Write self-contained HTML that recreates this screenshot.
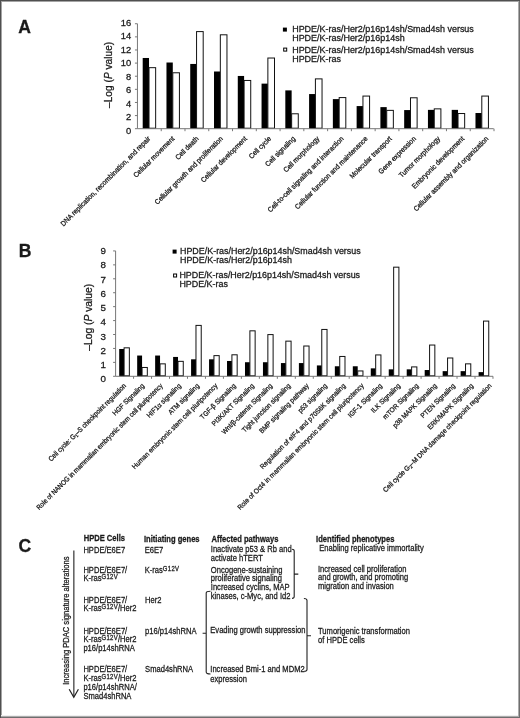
<!DOCTYPE html><html><head><meta charset="utf-8"><style>html,body{margin:0;padding:0;background:#fff}svg{display:block}text{font-family:"Liberation Sans", Arial, Helvetica, sans-serif;fill:#1a1a1a;stroke:#1a1a1a;stroke-width:0.28px}</style></head><body>
<svg width="520" height="718" viewBox="0 0 520 718" shape-rendering="auto">
<rect x="0" y="0" width="520" height="718" fill="#fff"/>
<text x="18.3" y="32.6" font-size="17.6" font-weight="bold" fill="#000">A</text>
<text x="18.8" y="257" font-size="17.6" font-weight="bold" fill="#000">B</text>
<text x="18.5" y="551.6" font-size="17.6" font-weight="bold" fill="#000">C</text>
<rect x="142.70" y="57.98" width="6.32" height="70.72" fill="#000"/>
<rect x="149.02" y="67.67" width="6.63" height="60.53" fill="#fff" stroke="#111" stroke-width="1"/>
<rect x="166.47" y="62.51" width="6.32" height="66.19" fill="#000"/>
<rect x="172.79" y="72.78" width="6.63" height="55.42" fill="#fff" stroke="#111" stroke-width="1"/>
<rect x="190.24" y="63.95" width="6.32" height="64.75" fill="#000"/>
<rect x="196.56" y="31.59" width="6.63" height="96.61" fill="#fff" stroke="#111" stroke-width="1"/>
<rect x="214.01" y="71.50" width="6.32" height="57.20" fill="#000"/>
<rect x="220.33" y="34.80" width="6.63" height="93.40" fill="#fff" stroke="#111" stroke-width="1"/>
<rect x="237.78" y="75.96" width="6.32" height="52.74" fill="#000"/>
<rect x="244.10" y="80.46" width="6.63" height="47.74" fill="#fff" stroke="#111" stroke-width="1"/>
<rect x="261.55" y="83.63" width="6.32" height="45.07" fill="#000"/>
<rect x="267.87" y="58.02" width="6.63" height="70.18" fill="#fff" stroke="#111" stroke-width="1"/>
<rect x="285.32" y="90.39" width="6.32" height="38.31" fill="#000"/>
<rect x="291.64" y="113.78" width="6.63" height="14.42" fill="#fff" stroke="#111" stroke-width="1"/>
<rect x="309.09" y="94.06" width="6.32" height="34.64" fill="#000"/>
<rect x="315.41" y="78.88" width="6.63" height="49.32" fill="#fff" stroke="#111" stroke-width="1"/>
<rect x="332.86" y="99.11" width="6.32" height="29.59" fill="#000"/>
<rect x="339.18" y="97.58" width="6.63" height="30.62" fill="#fff" stroke="#111" stroke-width="1"/>
<rect x="356.63" y="106.07" width="6.32" height="22.63" fill="#000"/>
<rect x="362.95" y="96.07" width="6.63" height="32.13" fill="#fff" stroke="#111" stroke-width="1"/>
<rect x="380.40" y="107.12" width="6.32" height="21.58" fill="#000"/>
<rect x="386.72" y="110.37" width="6.63" height="17.83" fill="#fff" stroke="#111" stroke-width="1"/>
<rect x="404.17" y="110.07" width="6.32" height="18.63" fill="#000"/>
<rect x="410.49" y="97.78" width="6.63" height="30.42" fill="#fff" stroke="#111" stroke-width="1"/>
<rect x="427.94" y="109.87" width="6.32" height="18.83" fill="#000"/>
<rect x="434.26" y="108.86" width="6.63" height="19.34" fill="#fff" stroke="#111" stroke-width="1"/>
<rect x="451.71" y="109.87" width="6.32" height="18.83" fill="#000"/>
<rect x="458.03" y="113.52" width="6.63" height="14.68" fill="#fff" stroke="#111" stroke-width="1"/>
<rect x="475.48" y="113.02" width="6.32" height="15.68" fill="#000"/>
<rect x="481.80" y="96.07" width="6.63" height="32.13" fill="#fff" stroke="#111" stroke-width="1"/>
<path d="M137.45 23.74V128.70H493.70" fill="none" stroke="#777" stroke-width="1"/>
<path d="M134.95 128.70H137.45" stroke="#777" stroke-width="1"/>
<text x="131.25" y="133.87" font-size="9.4" text-anchor="end">0</text>
<path d="M134.95 115.58H137.45" stroke="#777" stroke-width="1"/>
<text x="131.25" y="120.38" font-size="9.4" text-anchor="end">2</text>
<path d="M134.95 102.46H137.45" stroke="#777" stroke-width="1"/>
<text x="131.25" y="106.89" font-size="9.4" text-anchor="end">4</text>
<path d="M134.95 89.34H137.45" stroke="#777" stroke-width="1"/>
<text x="131.25" y="93.40" font-size="9.4" text-anchor="end">6</text>
<path d="M134.95 76.22H137.45" stroke="#777" stroke-width="1"/>
<text x="131.25" y="79.91" font-size="9.4" text-anchor="end">8</text>
<path d="M134.95 63.10H137.45" stroke="#777" stroke-width="1"/>
<text x="131.25" y="66.42" font-size="9.4" text-anchor="end">10</text>
<path d="M134.95 49.98H137.45" stroke="#777" stroke-width="1"/>
<text x="131.25" y="52.93" font-size="9.4" text-anchor="end">12</text>
<path d="M134.95 36.86H137.45" stroke="#777" stroke-width="1"/>
<text x="131.25" y="39.44" font-size="9.4" text-anchor="end">14</text>
<path d="M134.95 23.74H137.45" stroke="#777" stroke-width="1"/>
<text x="131.25" y="25.95" font-size="9.4" text-anchor="end">16</text>
<path d="M161.22 128.70V131.20" stroke="#777" stroke-width="1"/>
<path d="M184.99 128.70V131.20" stroke="#777" stroke-width="1"/>
<path d="M208.76 128.70V131.20" stroke="#777" stroke-width="1"/>
<path d="M232.53 128.70V131.20" stroke="#777" stroke-width="1"/>
<path d="M256.30 128.70V131.20" stroke="#777" stroke-width="1"/>
<path d="M280.07 128.70V131.20" stroke="#777" stroke-width="1"/>
<path d="M303.84 128.70V131.20" stroke="#777" stroke-width="1"/>
<path d="M327.61 128.70V131.20" stroke="#777" stroke-width="1"/>
<path d="M351.38 128.70V131.20" stroke="#777" stroke-width="1"/>
<path d="M375.15 128.70V131.20" stroke="#777" stroke-width="1"/>
<path d="M398.92 128.70V131.20" stroke="#777" stroke-width="1"/>
<path d="M422.69 128.70V131.20" stroke="#777" stroke-width="1"/>
<path d="M446.46 128.70V131.20" stroke="#777" stroke-width="1"/>
<path d="M470.23 128.70V131.20" stroke="#777" stroke-width="1"/>
<path d="M494.00 128.70V131.20" stroke="#777" stroke-width="1"/>
<text x="0" y="0" font-size="7.2" text-anchor="end" transform="translate(150.93 139.20) rotate(-45) scale(0.9170 1)">DNA replication, recombination, and repair</text>
<text x="0" y="0" font-size="7.2" text-anchor="end" transform="translate(175.07 139.20) rotate(-45) scale(0.9170 1)">Cellular movement</text>
<text x="0" y="0" font-size="7.2" text-anchor="end" transform="translate(199.21 139.20) rotate(-45) scale(0.9170 1)">Cell death</text>
<text x="0" y="0" font-size="7.2" text-anchor="end" transform="translate(223.35 139.20) rotate(-45) scale(0.9170 1)">Cellular growth and proliferation</text>
<text x="0" y="0" font-size="7.2" text-anchor="end" transform="translate(247.49 139.20) rotate(-45) scale(0.9170 1)">Cellular development</text>
<text x="0" y="0" font-size="7.2" text-anchor="end" transform="translate(271.63 139.20) rotate(-45) scale(0.9170 1)">Cell cycle</text>
<text x="0" y="0" font-size="7.2" text-anchor="end" transform="translate(295.77 139.20) rotate(-45) scale(0.9170 1)">Cell signaling</text>
<text x="0" y="0" font-size="7.2" text-anchor="end" transform="translate(319.92 139.20) rotate(-45) scale(0.9170 1)">Cell morphology</text>
<text x="0" y="0" font-size="7.2" text-anchor="end" transform="translate(344.06 139.20) rotate(-45) scale(0.9170 1)">Cell-to-cell signaling and interaction</text>
<text x="0" y="0" font-size="7.2" text-anchor="end" transform="translate(368.19 139.20) rotate(-45) scale(0.9170 1)">Cellular function and maintenance</text>
<text x="0" y="0" font-size="7.2" text-anchor="end" transform="translate(392.34 139.20) rotate(-45) scale(0.9170 1)">Molecular transport</text>
<text x="0" y="0" font-size="7.2" text-anchor="end" transform="translate(416.48 139.20) rotate(-45) scale(0.9170 1)">Gene expression</text>
<text x="0" y="0" font-size="7.2" text-anchor="end" transform="translate(440.62 139.20) rotate(-45) scale(0.9170 1)">Tumor morphology</text>
<text x="0" y="0" font-size="7.2" text-anchor="end" transform="translate(464.75 139.20) rotate(-45) scale(0.9170 1)">Embryonic development</text>
<text x="0" y="0" font-size="7.2" text-anchor="end" transform="translate(488.90 139.20) rotate(-45) scale(0.9170 1)">Cellular assembly and organization</text>
<text x="0" y="0" font-size="10" text-anchor="middle" textLength="66.2" lengthAdjust="spacing" transform="translate(111.5 74.9) rotate(-90)">–Log (<tspan font-style="italic">P</tspan> value)</text>
<rect x="282.9" y="27.6" width="4.0" height="4.0" fill="#000"/>
<rect x="283.7" y="48.1" width="3.0" height="3.0" fill="#fff" stroke="#000" stroke-width="1"/>
<text font-size="8.96"><tspan x="292.2" y="32">HPDE/K-ras/Her2/p16p14sh/Smad4sh versus</tspan><tspan x="292.2" y="40.8">HPDE/K-ras/Her2/p16p14sh</tspan><tspan x="292.2" y="53">HPDE/K-ras/Her2/p16p14sh/Smad4sh versus</tspan><tspan x="292.2" y="62">HPDE/K-ras</tspan></text>
<rect x="119.20" y="349.00" width="4.90" height="27.30" fill="#000"/>
<rect x="124.10" y="347.83" width="5.25" height="27.97" fill="#fff" stroke="#111" stroke-width="1"/>
<rect x="137.17" y="355.54" width="4.90" height="20.76" fill="#000"/>
<rect x="142.07" y="367.47" width="5.25" height="8.33" fill="#fff" stroke="#111" stroke-width="1"/>
<rect x="155.14" y="355.54" width="4.90" height="20.76" fill="#000"/>
<rect x="160.04" y="363.85" width="5.25" height="11.95" fill="#fff" stroke="#111" stroke-width="1"/>
<rect x="173.11" y="356.94" width="4.90" height="19.36" fill="#000"/>
<rect x="178.01" y="361.34" width="5.25" height="14.46" fill="#fff" stroke="#111" stroke-width="1"/>
<rect x="191.08" y="359.31" width="4.90" height="16.99" fill="#000"/>
<rect x="195.98" y="325.40" width="5.25" height="50.40" fill="#fff" stroke="#111" stroke-width="1"/>
<rect x="209.05" y="359.31" width="4.90" height="16.99" fill="#000"/>
<rect x="213.95" y="355.63" width="5.25" height="20.17" fill="#fff" stroke="#111" stroke-width="1"/>
<rect x="227.02" y="360.98" width="4.90" height="15.32" fill="#000"/>
<rect x="231.92" y="354.79" width="5.25" height="21.01" fill="#fff" stroke="#111" stroke-width="1"/>
<rect x="244.99" y="362.23" width="4.90" height="14.07" fill="#000"/>
<rect x="249.89" y="330.83" width="5.25" height="44.97" fill="#fff" stroke="#111" stroke-width="1"/>
<rect x="262.96" y="362.23" width="4.90" height="14.07" fill="#000"/>
<rect x="267.86" y="334.59" width="5.25" height="41.21" fill="#fff" stroke="#111" stroke-width="1"/>
<rect x="280.93" y="363.07" width="4.90" height="13.23" fill="#000"/>
<rect x="285.83" y="341.14" width="5.25" height="34.66" fill="#fff" stroke="#111" stroke-width="1"/>
<rect x="298.90" y="363.07" width="4.90" height="13.23" fill="#000"/>
<rect x="303.80" y="346.01" width="5.25" height="29.79" fill="#fff" stroke="#111" stroke-width="1"/>
<rect x="316.87" y="365.43" width="4.90" height="10.87" fill="#000"/>
<rect x="321.77" y="329.44" width="5.25" height="46.36" fill="#fff" stroke="#111" stroke-width="1"/>
<rect x="334.84" y="366.27" width="4.90" height="10.03" fill="#000"/>
<rect x="339.74" y="356.46" width="5.25" height="19.34" fill="#fff" stroke="#111" stroke-width="1"/>
<rect x="352.81" y="366.27" width="4.90" height="10.03" fill="#000"/>
<rect x="357.71" y="370.95" width="5.25" height="4.85" fill="#fff" stroke="#111" stroke-width="1"/>
<rect x="370.78" y="368.36" width="4.90" height="7.94" fill="#000"/>
<rect x="375.68" y="354.93" width="5.25" height="20.87" fill="#fff" stroke="#111" stroke-width="1"/>
<rect x="388.75" y="369.34" width="4.90" height="6.96" fill="#000"/>
<rect x="393.65" y="267.17" width="5.25" height="108.63" fill="#fff" stroke="#111" stroke-width="1"/>
<rect x="406.72" y="369.34" width="4.90" height="6.96" fill="#000"/>
<rect x="411.62" y="366.91" width="5.25" height="8.89" fill="#fff" stroke="#111" stroke-width="1"/>
<rect x="424.69" y="370.03" width="4.90" height="6.27" fill="#000"/>
<rect x="429.59" y="345.04" width="5.25" height="30.76" fill="#fff" stroke="#111" stroke-width="1"/>
<rect x="442.66" y="371.15" width="4.90" height="5.15" fill="#000"/>
<rect x="447.56" y="357.99" width="5.25" height="17.81" fill="#fff" stroke="#111" stroke-width="1"/>
<rect x="460.63" y="371.15" width="4.90" height="5.15" fill="#000"/>
<rect x="465.53" y="363.85" width="5.25" height="11.95" fill="#fff" stroke="#111" stroke-width="1"/>
<rect x="478.60" y="372.12" width="4.90" height="4.18" fill="#000"/>
<rect x="483.50" y="321.08" width="5.25" height="54.72" fill="#fff" stroke="#111" stroke-width="1"/>
<path d="M115.60 250.93V376.30H493.00" fill="none" stroke="#777" stroke-width="1"/>
<path d="M113.10 376.30H115.60" stroke="#777" stroke-width="1"/>
<text x="105.90" y="382.31" font-size="9.8" text-anchor="end">0</text>
<path d="M113.10 362.37H115.60" stroke="#777" stroke-width="1"/>
<text x="105.90" y="368.08" font-size="9.8" text-anchor="end">1</text>
<path d="M113.10 348.44H115.60" stroke="#777" stroke-width="1"/>
<text x="105.90" y="353.85" font-size="9.8" text-anchor="end">2</text>
<path d="M113.10 334.51H115.60" stroke="#777" stroke-width="1"/>
<text x="105.90" y="339.62" font-size="9.8" text-anchor="end">3</text>
<path d="M113.10 320.58H115.60" stroke="#777" stroke-width="1"/>
<text x="105.90" y="325.39" font-size="9.8" text-anchor="end">4</text>
<path d="M113.10 306.65H115.60" stroke="#777" stroke-width="1"/>
<text x="105.90" y="311.16" font-size="9.8" text-anchor="end">5</text>
<path d="M113.10 292.72H115.60" stroke="#777" stroke-width="1"/>
<text x="105.90" y="296.93" font-size="9.8" text-anchor="end">6</text>
<path d="M113.10 278.79H115.60" stroke="#777" stroke-width="1"/>
<text x="105.90" y="282.70" font-size="9.8" text-anchor="end">7</text>
<path d="M113.10 264.86H115.60" stroke="#777" stroke-width="1"/>
<text x="105.90" y="268.47" font-size="9.8" text-anchor="end">8</text>
<path d="M113.10 250.93H115.60" stroke="#777" stroke-width="1"/>
<text x="105.90" y="254.24" font-size="9.8" text-anchor="end">9</text>
<path d="M133.57 376.30V378.80" stroke="#777" stroke-width="1"/>
<path d="M151.54 376.30V378.80" stroke="#777" stroke-width="1"/>
<path d="M169.51 376.30V378.80" stroke="#777" stroke-width="1"/>
<path d="M187.48 376.30V378.80" stroke="#777" stroke-width="1"/>
<path d="M205.45 376.30V378.80" stroke="#777" stroke-width="1"/>
<path d="M223.42 376.30V378.80" stroke="#777" stroke-width="1"/>
<path d="M241.39 376.30V378.80" stroke="#777" stroke-width="1"/>
<path d="M259.36 376.30V378.80" stroke="#777" stroke-width="1"/>
<path d="M277.33 376.30V378.80" stroke="#777" stroke-width="1"/>
<path d="M295.30 376.30V378.80" stroke="#777" stroke-width="1"/>
<path d="M313.27 376.30V378.80" stroke="#777" stroke-width="1"/>
<path d="M331.24 376.30V378.80" stroke="#777" stroke-width="1"/>
<path d="M349.21 376.30V378.80" stroke="#777" stroke-width="1"/>
<path d="M367.18 376.30V378.80" stroke="#777" stroke-width="1"/>
<path d="M385.15 376.30V378.80" stroke="#777" stroke-width="1"/>
<path d="M403.12 376.30V378.80" stroke="#777" stroke-width="1"/>
<path d="M421.09 376.30V378.80" stroke="#777" stroke-width="1"/>
<path d="M439.06 376.30V378.80" stroke="#777" stroke-width="1"/>
<path d="M457.03 376.30V378.80" stroke="#777" stroke-width="1"/>
<path d="M475.00 376.30V378.80" stroke="#777" stroke-width="1"/>
<path d="M492.97 376.30V378.80" stroke="#777" stroke-width="1"/>
<text x="0" y="0" font-size="7.0" text-anchor="end" transform="translate(126.58 386.30) rotate(-45) scale(0.9019 1)">Cell cycle: G<tspan baseline-shift='-1.5' font-size='4.5'>1</tspan>–S checkpoint regulation</text>
<text x="0" y="0" font-size="7.0" text-anchor="end" transform="translate(144.87 386.30) rotate(-45) scale(0.9250 1)">HGF Signaling</text>
<text x="0" y="0" font-size="7.0" text-anchor="end" transform="translate(163.14 386.30) rotate(-45) scale(0.8834 1)">Role of NANOG in mammalian embryonic stem cell pluripotency</text>
<text x="0" y="0" font-size="7.0" text-anchor="end" transform="translate(181.43 386.30) rotate(-45) scale(0.9250 1)">HIF1α signaling</text>
<text x="0" y="0" font-size="7.0" text-anchor="end" transform="translate(199.70 386.30) rotate(-45) scale(0.9250 1)">ATM signaling</text>
<text x="0" y="0" font-size="7.0" text-anchor="end" transform="translate(217.99 386.30) rotate(-45) scale(0.9343 1)">Human embryonic stem cell pluripotency</text>
<text x="0" y="0" font-size="7.0" text-anchor="end" transform="translate(236.26 386.30) rotate(-45) scale(0.9250 1)">TGF-β Signaling</text>
<text x="0" y="0" font-size="7.0" text-anchor="end" transform="translate(254.55 386.30) rotate(-45) scale(0.9250 1)">PI3K/AKT Signaling</text>
<text x="0" y="0" font-size="7.0" text-anchor="end" transform="translate(272.82 386.30) rotate(-45) scale(0.9250 1)">Wnt/β-catenin Signaling</text>
<text x="0" y="0" font-size="7.0" text-anchor="end" transform="translate(291.11 386.30) rotate(-45) scale(0.9250 1)">Tight junction signaling</text>
<text x="0" y="0" font-size="7.0" text-anchor="end" transform="translate(309.38 386.30) rotate(-45) scale(0.9250 1)">BMP signaling pathway</text>
<text x="0" y="0" font-size="7.0" text-anchor="end" transform="translate(327.67 386.30) rotate(-45) scale(0.9250 1)">p53 signaling</text>
<text x="0" y="0" font-size="7.0" text-anchor="end" transform="translate(345.94 386.30) rotate(-45) scale(0.9250 1)">Regulation of eIF4 and p70S6K signaling</text>
<text x="0" y="0" font-size="7.0" text-anchor="end" transform="translate(364.23 386.30) rotate(-45) scale(0.9343 1)">Role of Oct4 in mammalian embryonic stem cell pluripotency</text>
<text x="0" y="0" font-size="7.0" text-anchor="end" transform="translate(382.50 386.30) rotate(-45) scale(0.9250 1)">IGF-1 Signaling</text>
<text x="0" y="0" font-size="7.0" text-anchor="end" transform="translate(400.79 386.30) rotate(-45) scale(0.9250 1)">ILK Signaling</text>
<text x="0" y="0" font-size="7.0" text-anchor="end" transform="translate(419.06 386.30) rotate(-45) scale(0.9250 1)">mTOR Signaling</text>
<text x="0" y="0" font-size="7.0" text-anchor="end" transform="translate(437.34 386.30) rotate(-45) scale(0.9250 1)">p38 MAPK Signaling</text>
<text x="0" y="0" font-size="7.0" text-anchor="end" transform="translate(455.62 386.30) rotate(-45) scale(0.9250 1)">PTEN Signaling</text>
<text x="0" y="0" font-size="7.0" text-anchor="end" transform="translate(473.91 386.30) rotate(-45) scale(0.9250 1)">ERK/MAPK Signaling</text>
<text x="0" y="0" font-size="7.0" text-anchor="end" transform="translate(492.19 386.30) rotate(-45) scale(0.9343 1)">Cell cycle G<tspan baseline-shift='-1.5' font-size='4.5'>2</tspan>–M DNA damage checkpoint regulation</text>
<text x="0" y="0" font-size="10.3" text-anchor="middle" transform="translate(92.3 317.3) rotate(-90)">–Log (<tspan font-style="italic">P</tspan> value)</text>
<rect x="172.6" y="249.6" width="4.0" height="4.0" fill="#000"/>
<rect x="173.6" y="274.0" width="3.0" height="3.0" fill="#fff" stroke="#000" stroke-width="1"/>
<text font-size="8.92"><tspan x="180" y="254">HPDE/K-ras/Her2/p16p14sh/Smad4sh versus</tspan><tspan x="180" y="262.9">HPDE/K-ras/Her2/p16p14sh</tspan><tspan x="179.4" y="278">HPDE/K-ras/Her2/p16p14sh/Smad4sh versus</tspan><tspan x="179.4" y="286.9">HPDE/K-ras</tspan></text>
<text x="0" y="0" font-size="9.2" font-weight="bold" transform="translate(83.7 541.3) scale(0.825 1)">HPDE Cells</text>
<text x="0" y="0" font-size="9.2" font-weight="bold" transform="translate(144.0 541.9) scale(0.825 1)">Initiating genes</text>
<text x="0" y="0" font-size="9.2" font-weight="bold" transform="translate(211.5 542.2) scale(0.825 1)">Affected pathways</text>
<text x="0" y="0" font-size="9.2" font-weight="bold" transform="translate(316.1 542.2) scale(0.825 1)">Identified phenotypes</text>
<text x="0" y="0" font-size="9.2" transform="translate(83.4 552.6) scale(0.825 1)">HPDE/E6E7</text>
<text x="0" y="0" font-size="9.2" transform="translate(83.4 572.8) scale(0.825 1)">HPDE/E6E7/</text>
<text x="0" y="0" font-size="9.2" transform="translate(83.4 581.0) scale(0.825 1)">K-ras<tspan baseline-shift='2.7' font-size='7.2' letter-spacing='0.4'>G12V</tspan></text>
<text x="0" y="0" font-size="9.2" transform="translate(83.4 602.7) scale(0.825 1)">HPDE/E6E7/</text>
<text x="0" y="0" font-size="9.2" transform="translate(83.4 611.4) scale(0.825 1)">K-ras<tspan baseline-shift='2.7' font-size='7.2' letter-spacing='0.4'>G12V</tspan>/Her2</text>
<text x="0" y="0" font-size="9.2" transform="translate(83.4 633.6) scale(0.825 1)">HPDE/E6E7/</text>
<text x="0" y="0" font-size="9.2" transform="translate(83.4 642.2) scale(0.825 1)">K-ras<tspan baseline-shift='2.7' font-size='7.2' letter-spacing='0.4'>G12V</tspan>/Her2</text>
<text x="0" y="0" font-size="9.2" transform="translate(83.4 651.0) scale(0.825 1)">p16/p14shRNA</text>
<text x="0" y="0" font-size="9.2" transform="translate(83.4 672.2) scale(0.825 1)">HPDE/E6E7/</text>
<text x="0" y="0" font-size="9.2" transform="translate(83.4 681.0) scale(0.825 1)">K-ras<tspan baseline-shift='2.7' font-size='7.2' letter-spacing='0.4'>G12V</tspan>/Her2</text>
<text x="0" y="0" font-size="9.2" transform="translate(83.4 689.8) scale(0.825 1)">p16/p14shRNA/</text>
<text x="0" y="0" font-size="9.2" transform="translate(83.4 698.8) scale(0.825 1)">Smad4shRNA</text>
<text x="0" y="0" font-size="9.2" transform="translate(144.7 552.6) scale(0.825 1)">E6E7</text>
<text x="0" y="0" font-size="9.2" transform="translate(144.7 572.8) scale(0.825 1)">K-ras<tspan baseline-shift='2.7' font-size='7.2' letter-spacing='0.4'>G12V</tspan></text>
<text x="0" y="0" font-size="9.2" transform="translate(145.1 603.1) scale(0.825 1)">Her2</text>
<text x="0" y="0" font-size="9.2" transform="translate(145.1 633.7) scale(0.825 1)">p16/p14shRNA</text>
<text x="0" y="0" font-size="9.2" transform="translate(145.1 672.4) scale(0.825 1)">Smad4shRNA</text>
<text x="0" y="0" font-size="9.2" transform="translate(210.8 552.1) scale(0.825 1)">Inactivate p53 &amp; Rb and</text>
<text x="0" y="0" font-size="9.2" transform="translate(210.8 560.8) scale(0.825 1)">activate hTERT</text>
<text x="0" y="0" font-size="9.2" transform="translate(210.8 572.7) scale(0.825 1)">Oncogene-sustaining</text>
<text x="0" y="0" font-size="9.2" transform="translate(210.8 581.0) scale(0.825 1)">proliferative signaling</text>
<text x="0" y="0" font-size="9.2" transform="translate(210.8 589.6) scale(0.825 1)">Increased cyclins, MAP</text>
<text x="0" y="0" font-size="9.2" transform="translate(210.8 599.0) scale(0.825 1)">kinases, c-Myc, and Id2</text>
<text x="0" y="0" font-size="9.2" transform="translate(210.3 633.0) scale(0.825 1)">Evading growth suppression</text>
<text x="0" y="0" font-size="9.2" transform="translate(210.3 671.8) scale(0.825 1)">Increased Bmi-1 and MDM2</text>
<text x="0" y="0" font-size="9.2" transform="translate(210.3 682.0) scale(0.825 1)">expression</text>
<text x="0" y="0" font-size="9.2" transform="translate(319.2 551.3) scale(0.825 1)">Enabling replicative immortality</text>
<text x="0" y="0" font-size="9.2" transform="translate(318.0 571.5) scale(0.825 1)">Increased cell proliferation</text>
<text x="0" y="0" font-size="9.2" transform="translate(318.0 580.3) scale(0.825 1)">and growth, and promoting</text>
<text x="0" y="0" font-size="9.2" transform="translate(318.0 589.0) scale(0.825 1)">migration and invasion</text>
<text x="0" y="0" font-size="9.2" transform="translate(318.0 633.8) scale(0.825 1)">Tumorigenic transformation</text>
<text x="0" y="0" font-size="9.2" transform="translate(318.0 642.6) scale(0.825 1)">of HPDE cells</text>
<text x="0" y="0" font-size="9.2" textLength="128.3" lengthAdjust="spacingAndGlyphs" transform="translate(69.2 684.8) rotate(-90)">Increasing PDAC signature alterations</text>
<path d="M73.8 550.5V696" stroke="#666" stroke-width="1.6" fill="none"/>
<path d="M69.2 689.2L73.8 697.3L78.4 689.2" stroke="#222" stroke-width="1.2" fill="none"/>
<path d="M291.9 549.3Q294.2 549.3 294.2 551V596.5Q294.2 598.4 292 598.4M294.2 574.1H298.3" stroke="#222" stroke-width="1.1" fill="none"/>
<path d="M210.5 591.3Q206.2 591.3 206.2 593V672Q206.2 674 210.5 674M206.2 633.3H202.6" stroke="#222" stroke-width="1.1" fill="none"/>
<path d="M303.9 598.5Q307 598.5 307 600.5V669.5Q307 671.3 304.2 671.3M307 635.7H311" stroke="#222" stroke-width="1.1" fill="none"/>
<rect x="0" y="1" width="520" height="1" fill="#a4a4a4"/>
<rect x="1" y="0" width="1" height="718" fill="#a4a4a4"/>
<rect x="0" y="715" width="520" height="1" fill="#f0f0f0"/>
<rect x="0" y="716" width="520" height="1" fill="#ababab"/>
<rect x="518" y="0" width="1" height="718" fill="#ababab"/>
<rect x="0" y="717" width="520" height="1" fill="#6e6e6e"/>
<rect x="519" y="0" width="1" height="718" fill="#6e6e6e"/>
<rect x="0" y="0" width="520" height="1" fill="#505050"/>
<rect x="0" y="0" width="1" height="718" fill="#505050"/>
</svg></body></html>
